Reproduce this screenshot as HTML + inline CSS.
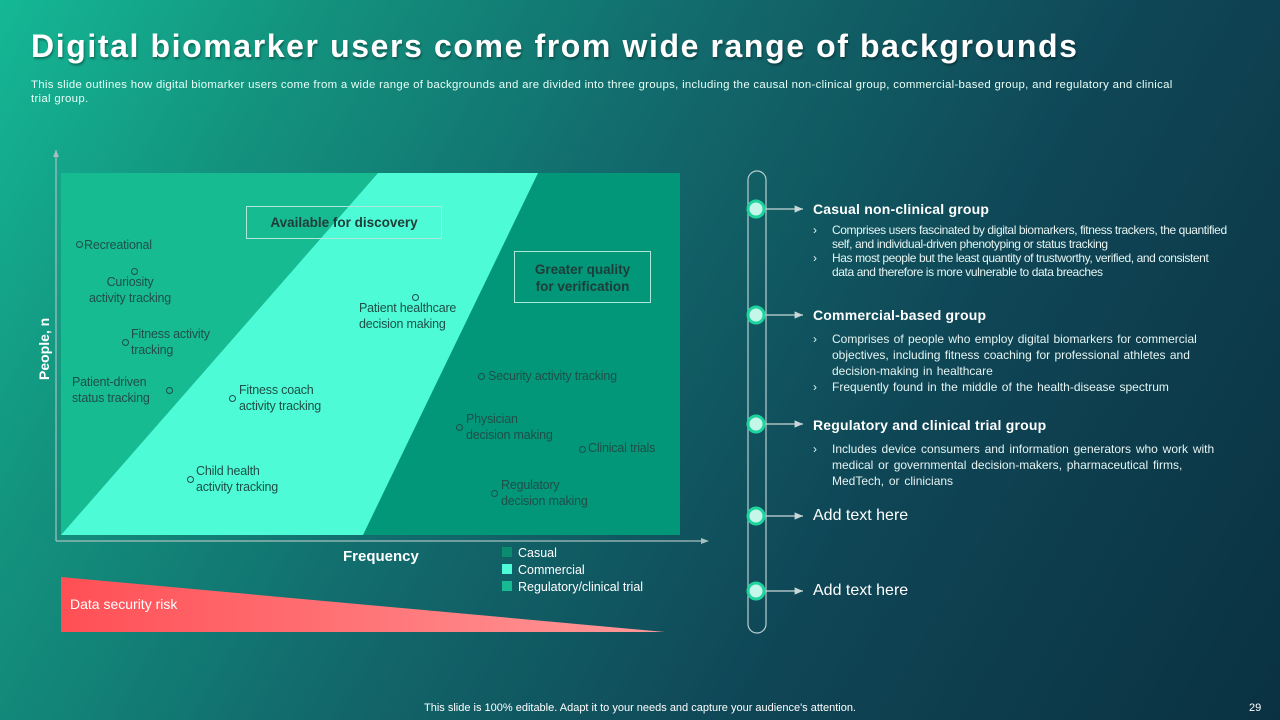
<!DOCTYPE html>
<html><head><meta charset="utf-8"><style>
*{margin:0;padding:0;box-sizing:border-box}
body{width:1280px;height:720px;overflow:hidden;position:relative;font-family:"Liberation Sans",Arial,sans-serif;color:#fff;
background:linear-gradient(120deg,#14b895 0%,#13947f 18%,#126a6c 42%,#0f4656 68%,#0a3141 100%);}
.a{position:absolute;white-space:nowrap}
h1{position:absolute;left:31px;top:28px;font-size:32px;font-weight:bold;letter-spacing:1.6px;text-shadow:1px 2px 2px rgba(0,0,0,.35)}
.sub{left:31px;top:78px;font-size:11.4px;line-height:14px;color:#e8fff8;white-space:normal;width:1145px;letter-spacing:0.3px}
.lab{font-size:12.5px;line-height:16px;color:#1e4f48;letter-spacing:-0.2px}
.dot{position:absolute;width:7px;height:7px;border:1px solid #1e4f48;border-radius:50%}
.hd{font-size:14px;font-weight:bold;color:#fff;letter-spacing:.2px}
.bl{font-size:12px;line-height:14px;color:#e6f4f2;white-space:normal}
.bl div{position:relative;padding-left:19px}
.bl div:before{content:"›";position:absolute;left:0;top:0}
.nw div{white-space:nowrap}
</style></head><body>
<h1>Digital biomarker users come from wide range of backgrounds</h1>
<div class="a sub">This slide outlines how digital biomarker users come from a wide range of backgrounds and are divided into three groups, including the causal non-clinical group, commercial-based group, and regulatory and clinical trial group.</div>

<svg class="a" style="left:0;top:0" width="1280" height="720">
<defs>
<linearGradient id="r" x1="0" x2="1" y1="0" y2="0"><stop offset="0" stop-color="#ff4f55"/><stop offset="1" stop-color="#ff9a9a"/></linearGradient>
<marker id="ar" markerWidth="8" markerHeight="8" refX="7" refY="4" orient="auto"><path d="M0,1 L7,4 L0,7z" fill="#c8d8d8"/></marker>
</defs>
<polygon points="61,173 680,173 680,535 61,535" fill="#03977a"/>
<polygon points="61,173 378,173 61,535" fill="#17bb92"/>
<polygon points="378,173 538,173 363,535 61,535" fill="#4dfbd6"/>
<line x1="56" y1="541" x2="56" y2="150" stroke="#a9c0c0" stroke-width="1.2"/>
<path d="M53,157 L56,150 L59,157z" fill="#a9c0c0"/>
<line x1="56" y1="541" x2="705" y2="541" stroke="#a9c0c0" stroke-width="1.2"/>
<path d="M701,538 L709,541 L701,544z" fill="#a9c0c0"/>
<rect x="246.5" y="206.5" width="195" height="32" fill="none" stroke="#aee8da" stroke-width="1"/>
<rect x="514.5" y="251.5" width="136" height="51" fill="none" stroke="#aee8da" stroke-width="1"/>
<polygon points="61,577 665,632 61,632" fill="url(#r)"/>
<rect x="502" y="547" width="10" height="10" fill="#0c8c6e"/>
<rect x="502" y="564" width="10" height="10" fill="#4dfbd6"/>
<rect x="502" y="581" width="10" height="10" fill="#17bb92"/>
<rect x="748" y="171" width="18" height="462" rx="9" fill="none" stroke="#b8d0d0" stroke-width="1.2"/>
<g stroke="#c8d8d8" stroke-width="1.2" marker-end="url(#ar)">
<line x1="766" y1="209" x2="803" y2="209"/><line x1="766" y1="315" x2="803" y2="315"/>
<line x1="766" y1="424" x2="803" y2="424"/><line x1="766" y1="516" x2="803" y2="516"/>
<line x1="766" y1="591" x2="803" y2="591"/></g>
<g fill="#c4f7ea" stroke="#1fd39e" stroke-width="3">
<circle cx="756" cy="209" r="8"/><circle cx="756" cy="315" r="8"/><circle cx="756" cy="424" r="8"/><circle cx="756" cy="516" r="8"/><circle cx="756" cy="591" r="8"/></g>
</svg>

<div class="a" style="left:246px;top:215px;width:196px;text-align:center;font-size:13.5px;font-weight:bold;color:#1e3c38">Available for discovery</div>
<div class="a" style="left:514px;top:261px;width:137px;text-align:center;font-size:13.5px;font-weight:bold;color:#1e3c38;line-height:17px">Greater quality<br>for verification</div>

<div class="dot" style="left:76px;top:241px"></div><div class="a lab" style="left:84px;top:237px">Recreational</div>
<div class="dot" style="left:131px;top:268px"></div><div class="a lab" style="left:89px;top:274px;text-align:center">Curiosity<br>activity tracking</div>
<div class="dot" style="left:122px;top:339px"></div><div class="a lab" style="left:131px;top:326px">Fitness activity<br>tracking</div>
<div class="dot" style="left:166px;top:387px"></div><div class="a lab" style="left:72px;top:374px">Patient-driven<br>status tracking</div>
<div class="dot" style="left:229px;top:395px"></div><div class="a lab" style="left:239px;top:382px">Fitness coach<br>activity tracking</div>
<div class="dot" style="left:187px;top:476px"></div><div class="a lab" style="left:196px;top:463px">Child health<br>activity tracking</div>
<div class="dot" style="left:412px;top:294px"></div><div class="a lab" style="left:359px;top:300px">Patient healthcare<br>decision making</div>
<div class="dot" style="left:478px;top:373px"></div><div class="a lab" style="left:488px;top:368px">Security activity tracking</div>
<div class="dot" style="left:456px;top:424px"></div><div class="a lab" style="left:466px;top:411px">Physician<br>decision making</div>
<div class="dot" style="left:579px;top:446px"></div><div class="a lab" style="left:588px;top:440px">Clinical trials</div>
<div class="dot" style="left:491px;top:490px"></div><div class="a lab" style="left:501px;top:477px">Regulatory<br>decision making</div>

<div class="a" style="left:36px;top:380px;transform:rotate(-90deg);transform-origin:0 0;font-size:14px;font-weight:bold">People, n</div>
<div class="a" style="left:343px;top:548px;font-size:15px;font-weight:bold">Frequency</div>
<div class="a" style="left:518px;top:545px;font-size:12.5px;line-height:17px">Casual<br>Commercial<br>Regulatory/clinical trial</div>
<div class="a" style="left:70px;top:596px;font-size:14px">Data security risk</div>

<div class="a hd" style="left:813px;top:201px">Casual non-clinical group</div>
<div class="a bl nw" style="left:813px;top:223px;letter-spacing:-0.4px"><div>Comprises users fascinated by digital biomarkers, fitness trackers, the quantified<br>self, and individual-driven phenotyping or status tracking</div><div>Has most people but the least quantity of trustworthy, verified, and consistent<br>data and therefore is more vulnerable to data breaches</div></div>
<div class="a hd" style="left:813px;top:307px">Commercial-based group</div>
<div class="a bl nw" style="left:813px;top:331px;line-height:16px;word-spacing:1px"><div>Comprises of people who employ digital biomarkers for commercial<br>objectives, including fitness coaching for professional athletes and<br>decision-making in healthcare</div><div>Frequently found in the middle of the health-disease spectrum</div></div>
<div class="a hd" style="left:813px;top:417px">Regulatory and clinical trial group</div>
<div class="a bl nw" style="left:813px;top:441px;line-height:16px;word-spacing:1.5px"><div>Includes device consumers and information generators who work with<br>medical or governmental decision-makers, pharmaceutical firms,<br>MedTech, or clinicians</div></div>
<div class="a" style="left:813px;top:507px;font-size:16px">Add text here</div>
<div class="a" style="left:813px;top:582px;font-size:16px">Add text here</div>

<div class="a" style="left:0;width:1280px;text-align:center;top:702px;font-size:11px">This slide is 100% editable. Adapt it to your needs and capture your audience's attention.</div>
<div class="a" style="left:1249px;top:702px;font-size:11px">29</div>
</body></html>
